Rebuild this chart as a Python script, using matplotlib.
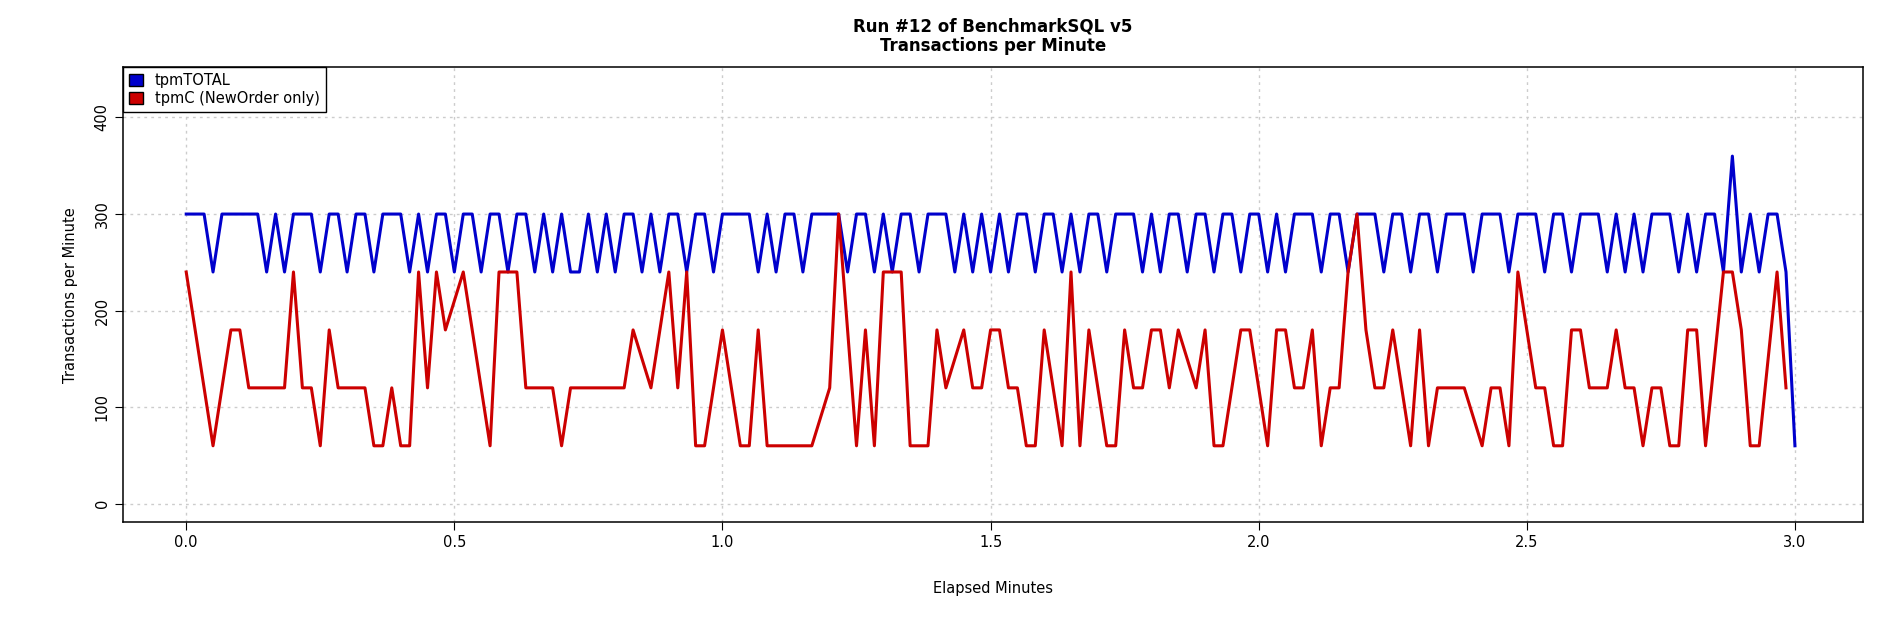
import numpy as np
import matplotlib
matplotlib.use("Agg")
import matplotlib.pyplot as plt
from matplotlib.patches import Patch

tpm_total = [
 300,300,300,240,300,300,300,300,300,240,
 300,240,300,300,300,240,300,300,240,300,
 300,240,300,300,300,240,300,240,300,300,
 240,300,300,240,300,300,240,300,300,240,
 300,240,300,240,240,300,240,300,240,300,
 300,240,300,240,300,300,240,300,300,240,
 300,300,300,300,240,300,240,300,300,240,
 300,300,300,300,240,300,300,240,300,240,
 300,300,240,300,300,300,240,300,240,300,
 240,300,240,300,300,240,300,300,240,300,
 240,300,300,240,300,300,300,240,300,240,
 300,300,240,300,300,240,300,300,240,300,
 300,240,300,240,300,300,300,240,300,300,
 240,300,300,300,240,300,300,240,300,300,
 240,300,300,300,240,300,300,300,240,300,
 300,300,240,300,300,240,300,300,300,240,
 300,240,300,240,300,300,300,240,300,240,
 300,300,240,360,240,300,240,300,300,240,
 60]

tpm_c = [
 240,180,120,60,120,180,180,120,120,120,
 120,120,240,120,120,60,180,120,120,120,
 120,60,60,120,60,60,240,120,240,180,
 210,240,180,120,60,240,240,240,120,120,
 120,120,60,120,120,120,120,120,120,120,
 180,150,120,180,240,120,240,60,60,120,
 180,120,60,60,180,60,60,60,60,60,
 60,90,120,300,180,60,180,60,240,240,
 240,60,60,60,180,120,150,180,120,120,
 180,180,120,120,60,60,180,120,60,240,
 60,180,120,60,60,180,120,120,180,180,
 120,180,150,120,180,60,60,120,180,180,
 120,60,180,180,120,120,180,60,120,120,
 240,300,180,120,120,180,120,60,180,60,
 120,120,120,120,90,60,120,120,60,240,
 180,120,120,60,60,180,180,120,120,120,
 180,120,120,60,120,120,60,60,180,180,
 60,150,240,240,180,60,60,150,240,120]

t_total = np.arange(len(tpm_total)) / 60.0
t_c = np.arange(len(tpm_c)) / 60.0

x_ticks = [0.0, 0.5, 1.0, 1.5, 2.0, 2.5, 3.0]
y_ticks = [0, 100, 200, 300, 400]

fig = plt.figure(figsize=(19.03, 6.23), dpi=100)
ax = fig.add_axes([0.0646, 0.162, 0.979 - 0.0646, 0.892 - 0.162])
ax.plot(t_total, tpm_total, color="#0000cc", lw=2.2, zorder=3)
ax.plot(t_c, tpm_c, color="#cc0000", lw=2.2, zorder=3)
ax.set_xlim(-0.118, 3.127)
ax.set_ylim(-19, 452)
ax.set_xticks(x_ticks)
ax.set_xticklabels([f"{v:.1f}" for v in x_ticks])
ax.set_yticks(y_ticks)
ax.set_yticklabels([str(v) for v in y_ticks], rotation=90, va="center")
ax.tick_params(labelsize=10.5, length=6)
ax.grid(True, color="#cccccc", linestyle=(0, (2, 3)), lw=1)
for s in ax.spines.values():
    s.set_linewidth(1.1)
ax.set_xlabel("Elapsed Minutes", fontsize=10.5, labelpad=22)
ax.set_ylabel("Transactions per Minute", fontsize=10.5, labelpad=12)
ax.set_title("Run #12 of BenchmarkSQL v5\nTransactions per Minute", fontsize=12,
             fontweight="bold", pad=12, linespacing=1.1)
handles = [Patch(facecolor="#0000cc", edgecolor="black"),
           Patch(facecolor="#cc0000", edgecolor="black")]
leg = ax.legend(handles, ["tpmTOTAL", "tpmC (NewOrder only)"], loc="upper left",
                bbox_to_anchor=(0, 1), fontsize=10.5, fancybox=False, framealpha=1,
                edgecolor="black", borderaxespad=0, handlelength=1.0, handleheight=0.9,
                labelspacing=0.2)
fig.savefig("out.png", dpi=100)
